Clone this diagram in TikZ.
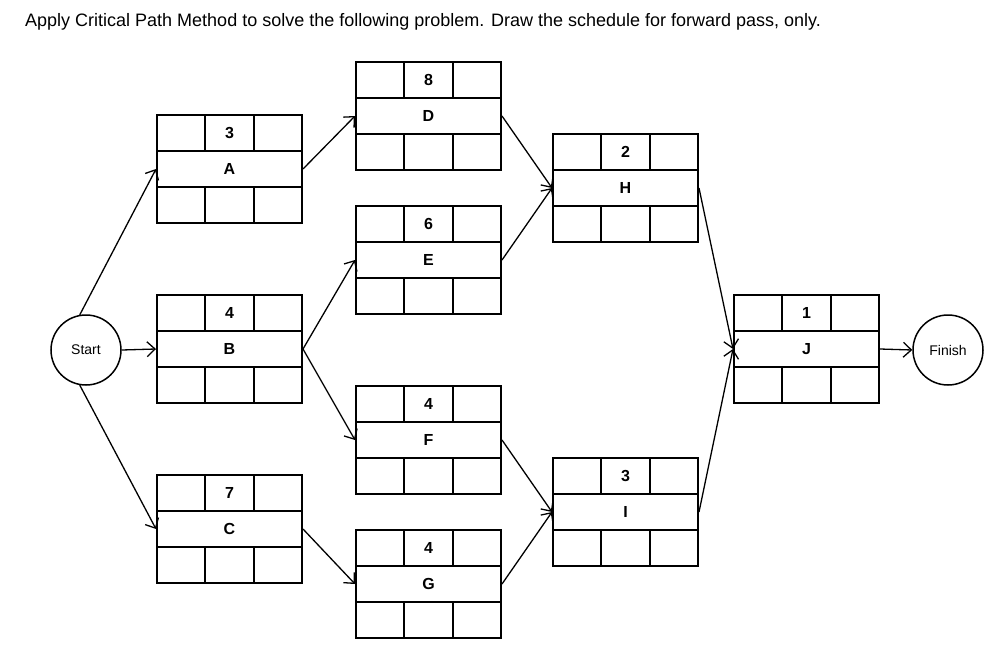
\documentclass[tikz,border=0pt]{standalone}
\usepackage{fontspec}
\setmainfont{Liberation Sans}
\usetikzlibrary{arrows.meta}
\newcommand\actbox[4]{%
  \node[cellm] (#1) at (#2+72.5,-#3-54) {\bfseries #1};
  \foreach \k in {0,1,2}{
    \node[cell] (#1t\k) at (#2+24.17+48.33*\k,-#3-18) {};
    \node[cell] (#1b\k) at (#2+24.17+48.33*\k,-#3-90) {};
  }
  \node[font=\bfseries\fontsize{16}{18}\selectfont] at (#1t1) {#4};
}
\begin{document}
\begin{tikzpicture}[x=1pt,y=1pt,
  cell/.style={draw,line width=2pt,minimum width=48.33pt,minimum height=36pt,inner sep=0pt},
  cellm/.style={draw,line width=2pt,minimum width=145pt,minimum height=36pt,inner sep=0pt,font=\fontsize{16}{18}\selectfont},
  circ/.style={draw,line width=1.5pt,circle,minimum size=70pt,inner sep=0pt,font=\fontsize{14}{16}\selectfont},
  arr/.style={->,line width=1.3pt,>={Straight Barb[length=8pt,width=15pt]}}]
\useasboundingbox (0,0) rectangle (1004,-653);
\node[anchor=west,inner sep=0pt,font=\fontsize{18}{20}\selectfont] (title) at (25,-22) {Apply Critical Path Method to solve the following problem. Draw the schedule for forward pass, only.};
\actbox{A}{157}{115}{3}
\actbox{B}{157}{295}{4}
\actbox{C}{157}{475}{7}
\actbox{D}{356}{62}{8}
\actbox{E}{356}{206}{6}
\actbox{F}{356}{386}{4}
\actbox{G}{356}{530}{4}
\actbox{H}{553}{134}{2}
\actbox{I}{553}{458}{3}
\actbox{J}{734}{295}{1}
\node[circ] (S) at (86,-350) {Start};
\node[circ] (Fi) at (948,-350) {Finish};
\draw[arr] (S.100) -- (A.west);
\draw[arr] (S.east) -- (B.west);
\draw[arr] (S.260) -- (C.west);
\draw[arr] (A.east) -- (D.west);
\draw[arr] (B.east) -- (E.west);
\draw[arr] (B.east) -- (F.west);
\draw[arr] (C.east) -- (G.west);
\draw[arr] (D.east) -- (H.west);
\draw[arr] (E.east) -- (H.west);
\draw[arr] (F.east) -- (I.west);
\draw[arr] (G.east) -- (I.west);
\draw[arr] (H.east) -- (J.west);
\draw[arr] (I.east) -- (J.west);
\draw[arr] (J.east) -- (Fi.west);
\end{tikzpicture}
\end{document}
